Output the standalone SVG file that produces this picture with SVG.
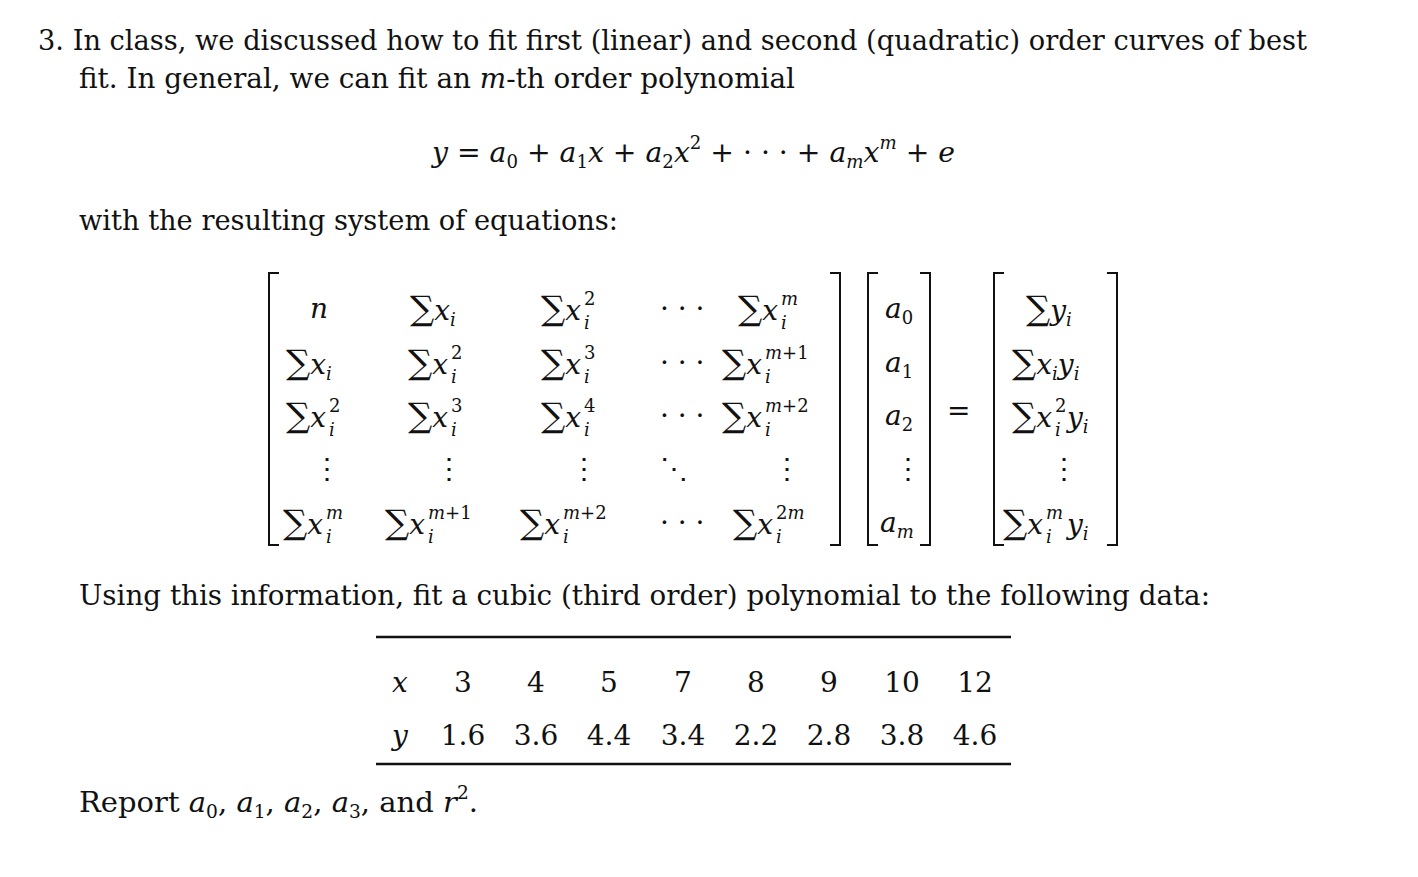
<svg xmlns="http://www.w3.org/2000/svg" width="1418" height="877" viewBox="0 0 1418 877">
<style>
text{font-family:"DejaVu Serif","Liberation Serif",serif;font-size:28px;fill:#111}
.i{font-style:italic}
.s{font-size:18px}
.g{font-size:34px}
.b{fill:none;stroke:#111;stroke-width:2}
</style>
<rect width="1418" height="877" fill="#fff"/>
<text x="38" y="50" textLength="1269" lengthAdjust="spacingAndGlyphs">3. In class, we discussed how to fit first (linear) and second (quadratic) order curves of best</text>
<text x="79" y="88" textLength="716" lengthAdjust="spacingAndGlyphs">fit. In general, we can fit an <tspan class="i">m</tspan>-th order polynomial</text>
<text x="432" y="162" textLength="523" lengthAdjust="spacingAndGlyphs"><tspan class="i">y</tspan> = <tspan class="i">a</tspan><tspan class="s" dy="6">0</tspan><tspan dy="-6"> + </tspan><tspan class="i">a</tspan><tspan class="s" dy="6">1</tspan><tspan class="i" dy="-6">x</tspan> + <tspan class="i">a</tspan><tspan class="s" dy="6">2</tspan><tspan class="i" dy="-6">x</tspan><tspan class="s" dy="-13">2</tspan><tspan dy="13"> + · · · + </tspan><tspan class="i">a</tspan><tspan class="s i" dy="6">m</tspan><tspan class="i" dy="-6">x</tspan><tspan class="s i" dy="-13">m</tspan><tspan dy="13"> + </tspan><tspan class="i">e</tspan></text>
<text x="79" y="230" textLength="539" lengthAdjust="spacingAndGlyphs">with the resulting system of equations:</text>
<g id="matrix">
<path class="b" d="M279 273H269V545H279M830 273H840V545H830M878 273H868V545H878M920 273H930V545H920M1004 273H994V545H1004M1107 273H1117V545H1107"/>
<text x="310" y="318" class="i">n</text>
<g id="e">
<text x="410" y="320"><tspan class="g">∑</tspan><tspan class="i">x</tspan><tspan class="s i" dy="6">i</tspan></text>
<text x="541" y="320"><tspan class="g">∑</tspan><tspan class="i">x</tspan></text><text x="584" y="305" class="s">2</text><text x="584" y="329" class="s i">i</text>
<text x="660" y="318">· · ·</text>
<text x="738" y="320"><tspan class="g">∑</tspan><tspan class="i">x</tspan></text><text x="781" y="305" class="s i">m</text><text x="781" y="329" class="s i">i</text>

<text x="286" y="374"><tspan class="g">∑</tspan><tspan class="i">x</tspan><tspan class="s i" dy="6">i</tspan></text>
<text x="408" y="374"><tspan class="g">∑</tspan><tspan class="i">x</tspan></text><text x="451" y="359" class="s">2</text><text x="451" y="383" class="s i">i</text>
<text x="541" y="374"><tspan class="g">∑</tspan><tspan class="i">x</tspan></text><text x="584" y="359" class="s">3</text><text x="584" y="383" class="s i">i</text>
<text x="660" y="372">· · ·</text>
<text x="722" y="374"><tspan class="g">∑</tspan><tspan class="i">x</tspan></text><text x="765" y="359" class="s"><tspan class="i">m</tspan>+1</text><text x="765" y="383" class="s i">i</text>

<text x="286" y="427"><tspan class="g">∑</tspan><tspan class="i">x</tspan></text><text x="329" y="412" class="s">2</text><text x="329" y="436" class="s i">i</text>
<text x="408" y="427"><tspan class="g">∑</tspan><tspan class="i">x</tspan></text><text x="451" y="412" class="s">3</text><text x="451" y="436" class="s i">i</text>
<text x="541" y="427"><tspan class="g">∑</tspan><tspan class="i">x</tspan></text><text x="584" y="412" class="s">4</text><text x="584" y="436" class="s i">i</text>
<text x="660" y="425">· · ·</text>
<text x="722" y="427"><tspan class="g">∑</tspan><tspan class="i">x</tspan></text><text x="765" y="412" class="s"><tspan class="i">m</tspan>+2</text><text x="765" y="436" class="s i">i</text>

<text x="313" y="478">⋮</text><text x="435" y="478">⋮</text><text x="570" y="478">⋮</text><text x="660" y="478">⋱</text><text x="773" y="478">⋮</text>

<text x="283" y="534"><tspan class="g">∑</tspan><tspan class="i">x</tspan></text><text x="326" y="519" class="s i">m</text><text x="326" y="543" class="s i">i</text>
<text x="385" y="534"><tspan class="g">∑</tspan><tspan class="i">x</tspan></text><text x="428" y="519" class="s"><tspan class="i">m</tspan>+1</text><text x="428" y="543" class="s i">i</text>
<text x="520" y="534"><tspan class="g">∑</tspan><tspan class="i">x</tspan></text><text x="563" y="519" class="s"><tspan class="i">m</tspan>+2</text><text x="563" y="543" class="s i">i</text>
<text x="660" y="532">· · ·</text>
<text x="733" y="534"><tspan class="g">∑</tspan><tspan class="i">x</tspan></text><text x="776" y="519" class="s">2<tspan class="i">m</tspan></text><text x="776" y="543" class="s i">i</text>
</g>
<g id="a">
<text x="885" y="318" class="i">a<tspan class="s" dy="6" style="font-style:normal">0</tspan></text>
<text x="885" y="372" class="i">a<tspan class="s" dy="6" style="font-style:normal">1</tspan></text>
<text x="885" y="425" class="i">a<tspan class="s" dy="6" style="font-style:normal">2</tspan></text>
<text x="894" y="478">⋮</text>
<text x="880" y="532" class="i">a<tspan class="s" dy="6">m</tspan></text>
</g>
<text x="947" y="420">=</text>
<g id="rhs">
<text x="1026" y="320"><tspan class="g">∑</tspan><tspan class="i">y</tspan><tspan class="s i" dy="6">i</tspan></text>
<text x="1012" y="374"><tspan class="g">∑</tspan><tspan class="i">x</tspan><tspan class="s i" dy="6">i</tspan><tspan class="i" dy="-6">y</tspan><tspan class="s i" dy="6">i</tspan></text>
<text x="1012" y="427"><tspan class="g">∑</tspan><tspan class="i">x</tspan></text><text x="1055" y="412" class="s">2</text><text x="1055" y="436" class="s i">i</text><text x="1067" y="427" class="i">y<tspan class="s" dy="6">i</tspan></text>
<text x="1050" y="478">⋮</text>
<text x="1003" y="534"><tspan class="g">∑</tspan><tspan class="i">x</tspan></text><text x="1046" y="519" class="s i">m</text><text x="1046" y="543" class="s i">i</text><text x="1067" y="534" class="i">y<tspan class="s" dy="6">i</tspan></text>
</g>
</g>
<text x="79" y="605" textLength="1131" lengthAdjust="spacingAndGlyphs">Using this information, fit a cubic (third order) polynomial to the following data:</text>
<g id="table" text-anchor="middle">
<line x1="376" y1="637" x2="1011" y2="637" stroke="#111" stroke-width="2.5"/>
<line x1="376" y1="764" x2="1011" y2="764" stroke="#111" stroke-width="2.5"/>
<text x="400" y="692" class="i">x</text><text x="463" y="692">3</text><text x="536" y="692">4</text><text x="609" y="692">5</text><text x="683" y="692">7</text><text x="756" y="692">8</text><text x="829" y="692">9</text><text x="902" y="692">10</text><text x="975" y="692">12</text>
<text x="400" y="745" class="i">y</text><text x="463" y="745">1.6</text><text x="536" y="745">3.6</text><text x="609" y="745">4.4</text><text x="683" y="745">3.4</text><text x="756" y="745">2.2</text><text x="829" y="745">2.8</text><text x="902" y="745">3.8</text><text x="975" y="745">4.6</text>
</g>
<text x="79" y="812" textLength="399" lengthAdjust="spacingAndGlyphs">Report <tspan class="i">a</tspan><tspan class="s" dy="6">0</tspan><tspan dy="-6">, </tspan><tspan class="i">a</tspan><tspan class="s" dy="6">1</tspan><tspan dy="-6">, </tspan><tspan class="i">a</tspan><tspan class="s" dy="6">2</tspan><tspan dy="-6">, </tspan><tspan class="i">a</tspan><tspan class="s" dy="6">3</tspan><tspan dy="-6">, and </tspan><tspan class="i">r</tspan><tspan class="s" dy="-13">2</tspan><tspan dy="13">.</tspan></text>
</svg>
